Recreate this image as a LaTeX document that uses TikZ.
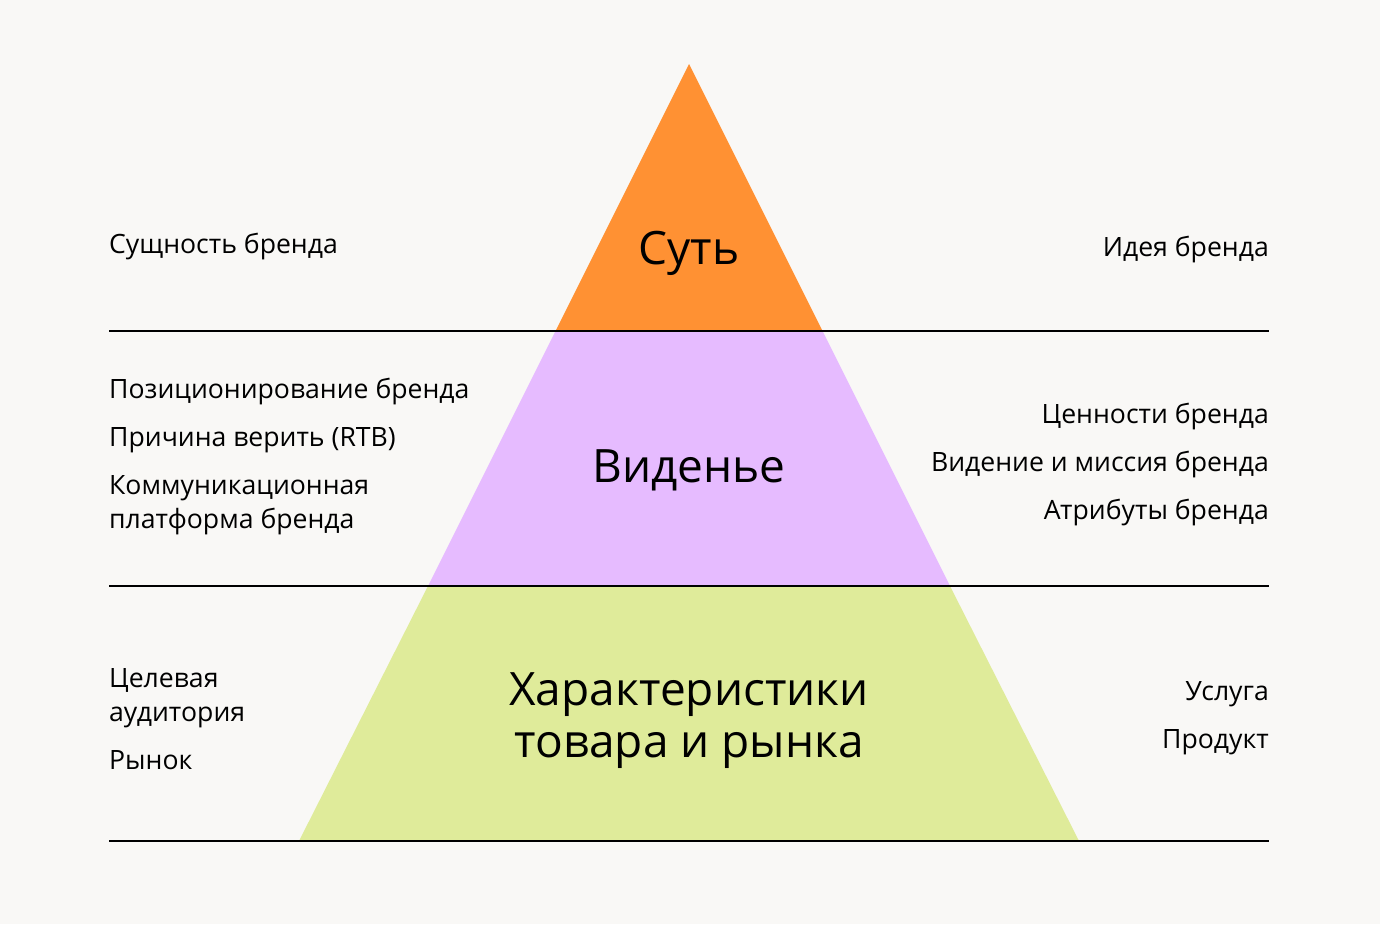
\documentclass[tikz,border=0pt]{standalone}
\usepackage{fontspec}
\setmainfont{Open Sans}
\definecolor{bg}{HTML}{F9F8F6}
\definecolor{orangeT}{HTML}{FF9133}
\definecolor{purpleT}{HTML}{E6BBFF}
\definecolor{greenT}{HTML}{DFEB9A}
\begin{document}
\begin{tikzpicture}[x=1pt,y=-1pt,
  small/.style={font=\fontsize{26.6}{34}\selectfont, inner sep=0pt, align=left},
  smallr/.style={font=\fontsize{26.6}{34}\selectfont, inner sep=0pt, align=right},
  big/.style={font=\fontsize{46}{52}\selectfont, inner sep=0pt, align=center},
  sep/.style={line width=1.2pt, black}]
\fill[bg] (0,0) rectangle (1380,924);
% pyramid
\coordinate (apex) at (689,64);
\coordinate (l1) at (555.5,331); \coordinate (r1) at (822.5,331);
\coordinate (l2) at (428,586); \coordinate (r2) at (950,586);
\coordinate (l3) at (299,841); \coordinate (r3) at (1079,841);
\fill[orangeT] (apex) -- (r1) -- (l1) -- cycle;
\fill[purpleT] (l1) -- (r1) -- (r2) -- (l2) -- cycle;
\fill[greenT] (l2) -- (r2) -- (r3) -- (l3) -- cycle;
% separators
\coordinate (s1a) at (109,331); \coordinate (s1b) at (1269,331);
\coordinate (s2a) at (109,586); \coordinate (s2b) at (1269,586);
\coordinate (s3a) at (109,841); \coordinate (s3b) at (1269,841);
\draw[sep] (s1a) -- (s1b);
\draw[sep] (s2a) -- (s2b);
\draw[sep] (s3a) -- (s3b);
% titles
\node[big, anchor=base] (t1) at (689,264) {Суть};
\node[big, anchor=base] (t2) at (689,482) {Виденье};
\node[big, anchor=base] (t3) at (689,757) {Характеристики\\товара и рынка};
% left
\node[small, anchor=base west] (a1) at (109,253) {Сущность бренда};
\node[small, anchor=base west] (b1) at (109,398) {Позиционирование бренда};
\node[small, anchor=base west] (b2) at (109,446) {Причина верить (RTB)};
\node[small, anchor=base west] (b3) at (109,528) {Коммуникационная\\платформа бренда};
\node[small, anchor=base west] (c1) at (109,721) {Целевая\\аудитория};
\node[small, anchor=base west] (c2) at (109,769) {Рынок};
% right
\node[smallr, anchor=base east] (d1) at (1269,256) {Идея бренда};
\node[smallr, anchor=base east] (e1) at (1269,423) {Ценности бренда};
\node[smallr, anchor=base east] (e2) at (1269,471) {Видение и миссия бренда};
\node[smallr, anchor=base east] (e3) at (1269,519) {Атрибуты бренда};
\node[smallr, anchor=base east] (f1) at (1269,700) {Услуга};
\node[smallr, anchor=base east] (f2) at (1269,748) {Продукт};
\end{tikzpicture}
\end{document}
